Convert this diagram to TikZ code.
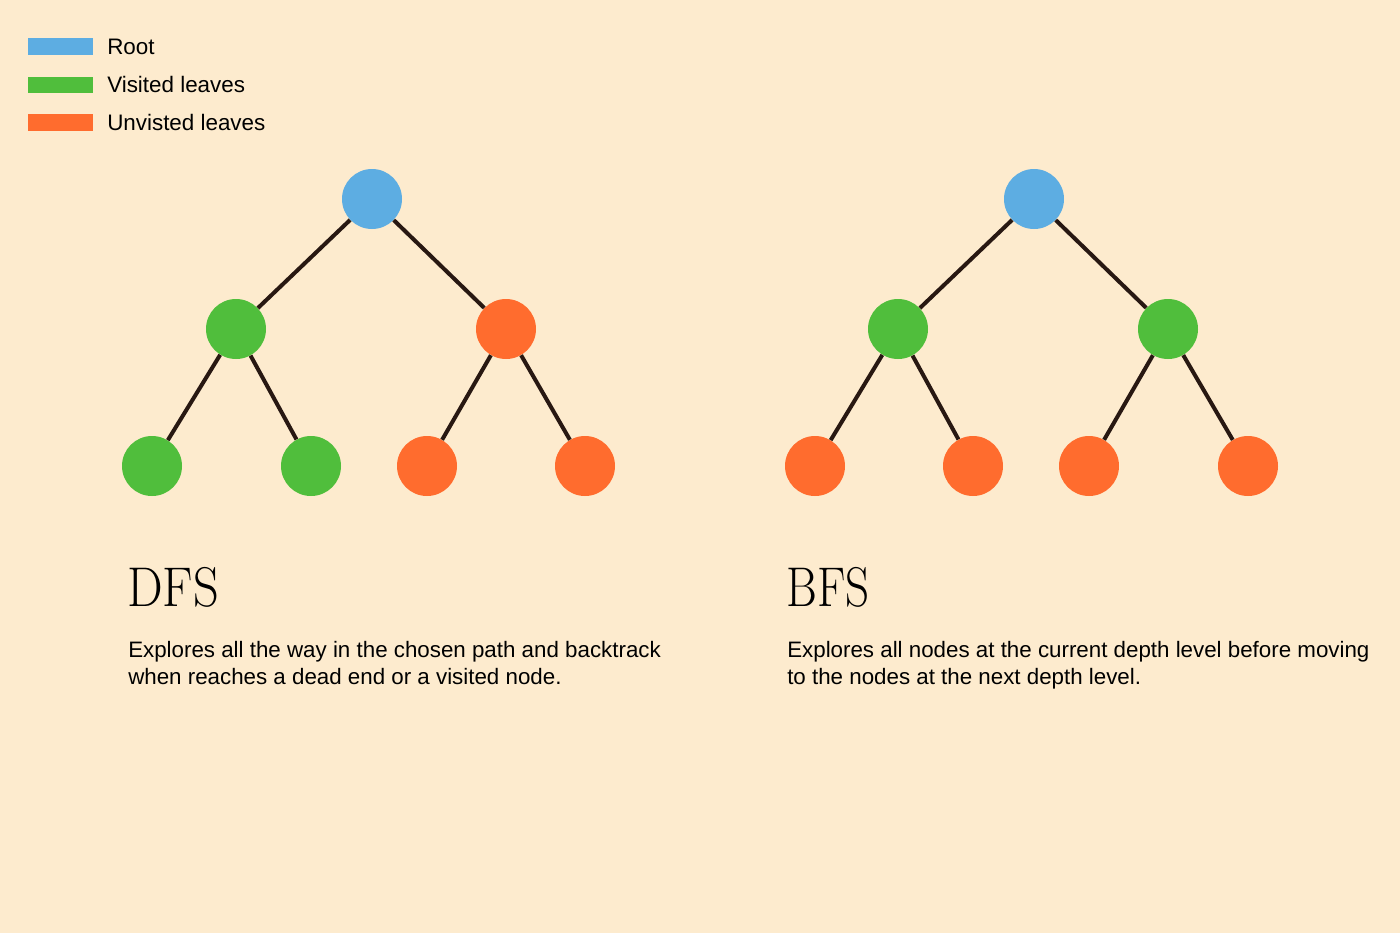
\documentclass[tikz,border=0pt]{standalone}
\usepackage{fontspec}
\usepackage{graphicx}
\newfontfamily\bodyfont{Liberation Sans}
\definecolor{bgc}{RGB}{253,235,206}
\definecolor{rootc}{RGB}{93,173,226}
\definecolor{visc}{RGB}{80,190,60}
\definecolor{unvc}{RGB}{255,108,46}
\definecolor{edgec}{RGB}{40,24,18}
\begin{document}
\begin{tikzpicture}[x=0.75pt,y=-0.75pt,
  vtx/.style={circle,minimum size=45pt,inner sep=0pt},
  rootn/.style={vtx,fill=rootc},
  visn/.style={vtx,fill=visc},
  unvn/.style={vtx,fill=unvc},
  edge/.style={draw=edgec,line width=3pt},
  legtext/.style={anchor=base west,inner sep=0pt,font=\bodyfont\fontsize{16.8}{20}\selectfont},
  title/.style={anchor=base west,inner sep=0pt,font=\fontsize{42}{48}\selectfont},
  body/.style={anchor=base west,inner sep=0pt,align=left,font=\bodyfont\fontsize{16.75}{20.25}\selectfont}]
\fill[bgc] (0,0) rectangle (1400,933);
\useasboundingbox (0,0) rectangle (1400,933);
% legend
\fill[rootc] (28,38) rectangle (93,55);
\fill[visc] (28,77) rectangle (93,93);
\fill[unvc] (28,114) rectangle (93,131);
\node[legtext] (lr) at (107,54) {Root};
\node[legtext] (lv) at (107,92) {Visited leaves};
\node[legtext] (lu) at (107,130) {Unvisted leaves};
% DFS tree
\node[rootn] (d0) at (372,199) {};
\node[visn] (d1) at (236,329) {};
\node[unvn] (d2) at (506,329) {};
\node[visn] (d3) at (152,466) {};
\node[visn] (d4) at (311,466) {};
\node[unvn] (d5) at (427,466) {};
\node[unvn] (d6) at (585,466) {};
\draw[edge] (d0) -- (d1);
\draw[edge] (d0) -- (d2);
\draw[edge] (d1) -- (d3);
\draw[edge] (d1) -- (d4);
\draw[edge] (d2) -- (d5);
\draw[edge] (d2) -- (d6);
% BFS tree
\node[rootn] (b0) at (1034,199) {};
\node[visn] (b1) at (898,329) {};
\node[visn] (b2) at (1168,329) {};
\node[unvn] (b3) at (815,466) {};
\node[unvn] (b4) at (973,466) {};
\node[unvn] (b5) at (1089,466) {};
\node[unvn] (b6) at (1248,466) {};
\draw[edge] (b0) -- (b1);
\draw[edge] (b0) -- (b2);
\draw[edge] (b1) -- (b3);
\draw[edge] (b1) -- (b4);
\draw[edge] (b2) -- (b5);
\draw[edge] (b2) -- (b6);
% titles
\node[title] (dt) at (127,606) {\scalebox{0.9}[1]{DFS}};
\node[title] (bt) at (786,606) {\scalebox{0.84}[1]{BFS}};
\node[body] (dx) at (128,684) {Explores all the way in the chosen path and backtrack\\when reaches a dead end or a visited node.};
\node[body] (bx) at (787,684) {Explores all nodes at the current depth level before moving\\to the nodes at the next depth level.};
\end{tikzpicture}
\end{document}
